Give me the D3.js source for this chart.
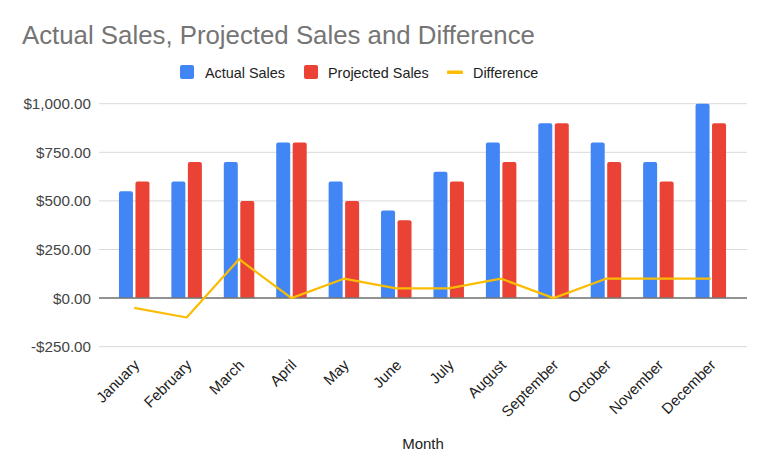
<!DOCTYPE html>
<html>
<head>
<meta charset="utf-8">
<script src="https://cdn.jsdelivr.net/npm/d3@7"></script>
<style>
  body { margin: 0; background: #fff; }
  text { font-family: "Liberation Sans", Arial, sans-serif; }
</style>
</head>
<body>
<svg id="chart" width="768" height="474"></svg>
<script>
const months = ["January", "February", "March", "April", "May", "June", "July",
  "August", "September", "October", "November", "December"];
const actualSales = [550, 600, 700, 800, 600, 450, 650, 800, 900, 800, 700, 1000];
const projectedSales = [600, 700, 500, 800, 500, 400, 600, 700, 900, 700, 600, 900];
const difference = [-50, -100, 200, 0, 100, 50, 50, 100, 0, 100, 100, 100];
const yTicks = [-250, 0, 250, 500, 750, 1000];

const svg = d3.select("#chart");
const blue = "#4285f4", red = "#ea4335", yellow = "#fbbc04";

const x = d3.scaleBand().domain(months).range([108, 737]);
const y = d3.scaleLinear().domain([-250, 1000]).range([346.7, 103.7]);
const fmt = v => (v < 0 ? "-$" : "$") + d3.format(",.2f")(Math.abs(v));

// title
svg.append("text").attr("x", 22).attr("y", 44)
  .attr("font-size", 25.8).attr("fill", "#757575")
  .text("Actual Sales, Projected Sales and Difference");

// gridlines + y labels
const grid = svg.append("g");
grid.selectAll("line").data(yTicks).enter().append("line")
  .attr("x1", 99).attr("x2", 747)
  .attr("y1", d => y(d)).attr("y2", d => y(d))
  .attr("stroke", "#d9d9d9").attr("stroke-width", 1);
grid.selectAll("text").data(yTicks).enter().append("text")
  .attr("x", 91).attr("y", d => y(d) + 5.5)
  .attr("text-anchor", "end").attr("font-size", 15.2).attr("fill", "#444")
  .text(fmt);

// bars
const bw = 14, gap = 2.5;
function barPath(x0, v) {
  const top = y(v), base = y(0), r = 2;
  return `M${x0},${base}V${top + r}Q${x0},${top} ${x0 + r},${top}H${x0 + bw - r}Q${x0 + bw},${top} ${x0 + bw},${top + r}V${base}Z`;
}
const cx = m => x(m) + x.bandwidth() / 2;
svg.append("g").selectAll("path").data(months).enter().append("path")
  .attr("fill", blue)
  .attr("d", (m, i) => barPath(cx(m) - gap / 2 - bw, actualSales[i]));
svg.append("g").selectAll("path").data(months).enter().append("path")
  .attr("fill", red)
  .attr("d", (m, i) => barPath(cx(m) + gap / 2, projectedSales[i]));

// zero baseline
svg.append("line").attr("x1", 99).attr("x2", 747)
  .attr("y1", y(0)).attr("y2", y(0))
  .attr("stroke", "#757575").attr("stroke-width", 1.5);

// difference line
const line = d3.line().x((d, i) => cx(months[i])).y(d => y(d));
svg.append("path").datum(difference)
  .attr("d", line).attr("fill", "none")
  .attr("stroke", yellow).attr("stroke-width", 2.2)
  .attr("stroke-linejoin", "round");

// x labels
svg.append("g").selectAll("text").data(months).enter().append("text")
  .attr("transform", m => `translate(${cx(m) + 6},${366}) rotate(-45)`)
  .attr("text-anchor", "end").attr("font-size", 15).attr("fill", "#222")
  .text(m => m);

svg.append("text").attr("x", 423).attr("y", 449)
  .attr("text-anchor", "middle").attr("font-size", 15).attr("fill", "#222")
  .text("Month");

// legend
const legend = svg.append("g");
legend.append("rect").attr("x", 180).attr("y", 65).attr("width", 14).attr("height", 14)
  .attr("rx", 2).attr("fill", blue);
legend.append("text").attr("x", 205).attr("y", 78).attr("font-size", 14.4).attr("fill", "#222").text("Actual Sales");
legend.append("rect").attr("x", 304).attr("y", 65).attr("width", 14).attr("height", 14)
  .attr("rx", 2).attr("fill", red);
legend.append("text").attr("x", 328).attr("y", 78).attr("font-size", 14.4).attr("fill", "#222").text("Projected Sales");
legend.append("rect").attr("x", 447).attr("y", 70.5).attr("width", 16).attr("height", 3.5)
  .attr("rx", 1).attr("fill", yellow);
legend.append("text").attr("x", 473).attr("y", 78).attr("font-size", 14.4).attr("fill", "#222").text("Difference");
</script>
</body>
</html>
